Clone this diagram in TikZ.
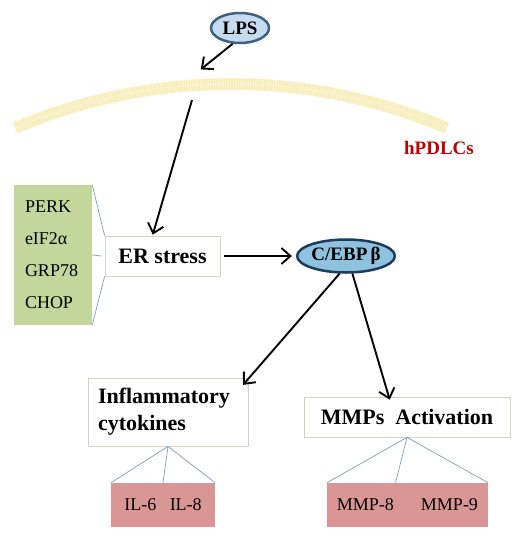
\documentclass[tikz,border=0pt]{standalone}
\usepackage{fontspec}
\setmainfont{Liberation Serif}
\usepackage{tikz}
\usetikzlibrary{positioning,shapes,arrows.meta}
\definecolor{lpsfill}{HTML}{C6DBEF}
\definecolor{lpsline}{HTML}{3F5F7F}
\definecolor{cebpfill}{HTML}{8EC3DF}
\definecolor{cebpline}{HTML}{1F3A5A}
\definecolor{markgreen}{HTML}{C3D69B}
\definecolor{markred}{HTML}{D99694}
\definecolor{linkblue}{HTML}{7F9DB9}
\definecolor{boxline}{HTML}{D4D4C4}
\definecolor{cellred}{HTML}{C00000}
\definecolor{lipid}{HTML}{F0DC70}

\begin{document}
\begin{tikzpicture}[x=1pt,y=-1pt,
cell/.style={draw=#1,ellipse,line width=2.5pt,inner sep=0pt,font=\fontsize{19}{21}\selectfont\bfseries},
box/.style={draw=boxline,fill=white,rectangle,line width=0.8pt,font=\fontsize{22}{27}\selectfont\bfseries},
marker/.style={fill=#1,rectangle,inner sep=0pt,font=\fontsize{18}{32}\selectfont},
link/.style={draw=linkblue,line width=0.7pt},
arr/.style={-{Straight Barb[length=9pt,width=16pt]},line width=1.9pt,shorten >=1pt}]
\useasboundingbox (0,0) rectangle (530,550);
% membrane
\draw[draw=lipid!25,line width=12pt] plot[domain=67:113,samples=60] ({231+552*cos(\x)},{636-552*sin(\x)});
\draw[draw=lipid!60,line width=11pt,dash pattern=on 1.2pt off 1.3pt] plot[domain=67:113,samples=60] ({231+552*cos(\x)},{636-552*sin(\x)});
\draw[draw=white!70!lipid,line width=1pt] plot[domain=67:113,samples=60] ({231+552*cos(\x)},{636-552*sin(\x)});
\node (cell) [text=cellred,font=\fontsize{19}{21}\selectfont\bfseries] at (439,148) {hPDLCs};
% signal
\node (lps) [cell=lpsline,fill=lpsfill,minimum width=58pt,minimum height=30pt] at (240,28) {LPS};
\node (er) [box,minimum width=115pt,minimum height=40pt] at (162.5,256) {ER stress};
\node (cebp) [cell=cebpline,fill=cebpfill,minimum width=96pt,minimum height=33pt] at (346,256) {C/EBP\,β};
\node (infl) [box,minimum width=160pt,minimum height=68pt,align=left,text width=140pt] at (168,412) {Inflammatory\\cytokines};
\node (mmp) [box,minimum width=206pt,minimum height=40pt] at (407,417) {MMPs\ \ Activation};
% markers
\node (stress) [marker=markgreen,minimum width=78pt,minimum height=140pt,align=left,text width=56pt] at (53,255) {PERK\\eIF2α\\GRP78\\CHOP};
\node (il) [marker=markred,minimum width=104pt,minimum height=44pt] at (163,505) {IL-6\ \ \ IL-8};
\node (mmps) [marker=markred,minimum width=161pt,minimum height=44pt] at (407.5,505) {MMP-8\hspace{27pt}MMP-9};
% links
\draw[link] (stress.north east) -- (er.north west);
\draw[link] (stress.east) -- ([xshift=-3pt]er.west);
\draw[link] (stress.south east) -- (er.south west);
\foreach \p in {north west,north,north east}
  \draw[link] (infl.south) -- (il.\p);
\draw[link] (mmp.south) -- (mmps.north west);
\draw[link] (mmp.south) -- ([xshift=-12pt]mmps.north);
\draw[link] (mmp.south) -- (mmps.north east);
% arrows
\coordinate (lpsend) at (200,70);
\coordinate (inside) at (192,100);
\draw[arr] (lps.245) -- (lpsend);
\draw[arr] (inside) -- ([xshift=-10pt]er.north);
\draw[arr] ([xshift=4pt]er.east) -- ([xshift=-3pt]cebp.west);
\draw[arr] (cebp.250) -- ([xshift=-6pt,yshift=-8pt]infl.north east);
\draw[arr] (cebp.290) -- ([xshift=-17pt,yshift=-4pt]mmp.north);
\end{tikzpicture}
\end{document}
